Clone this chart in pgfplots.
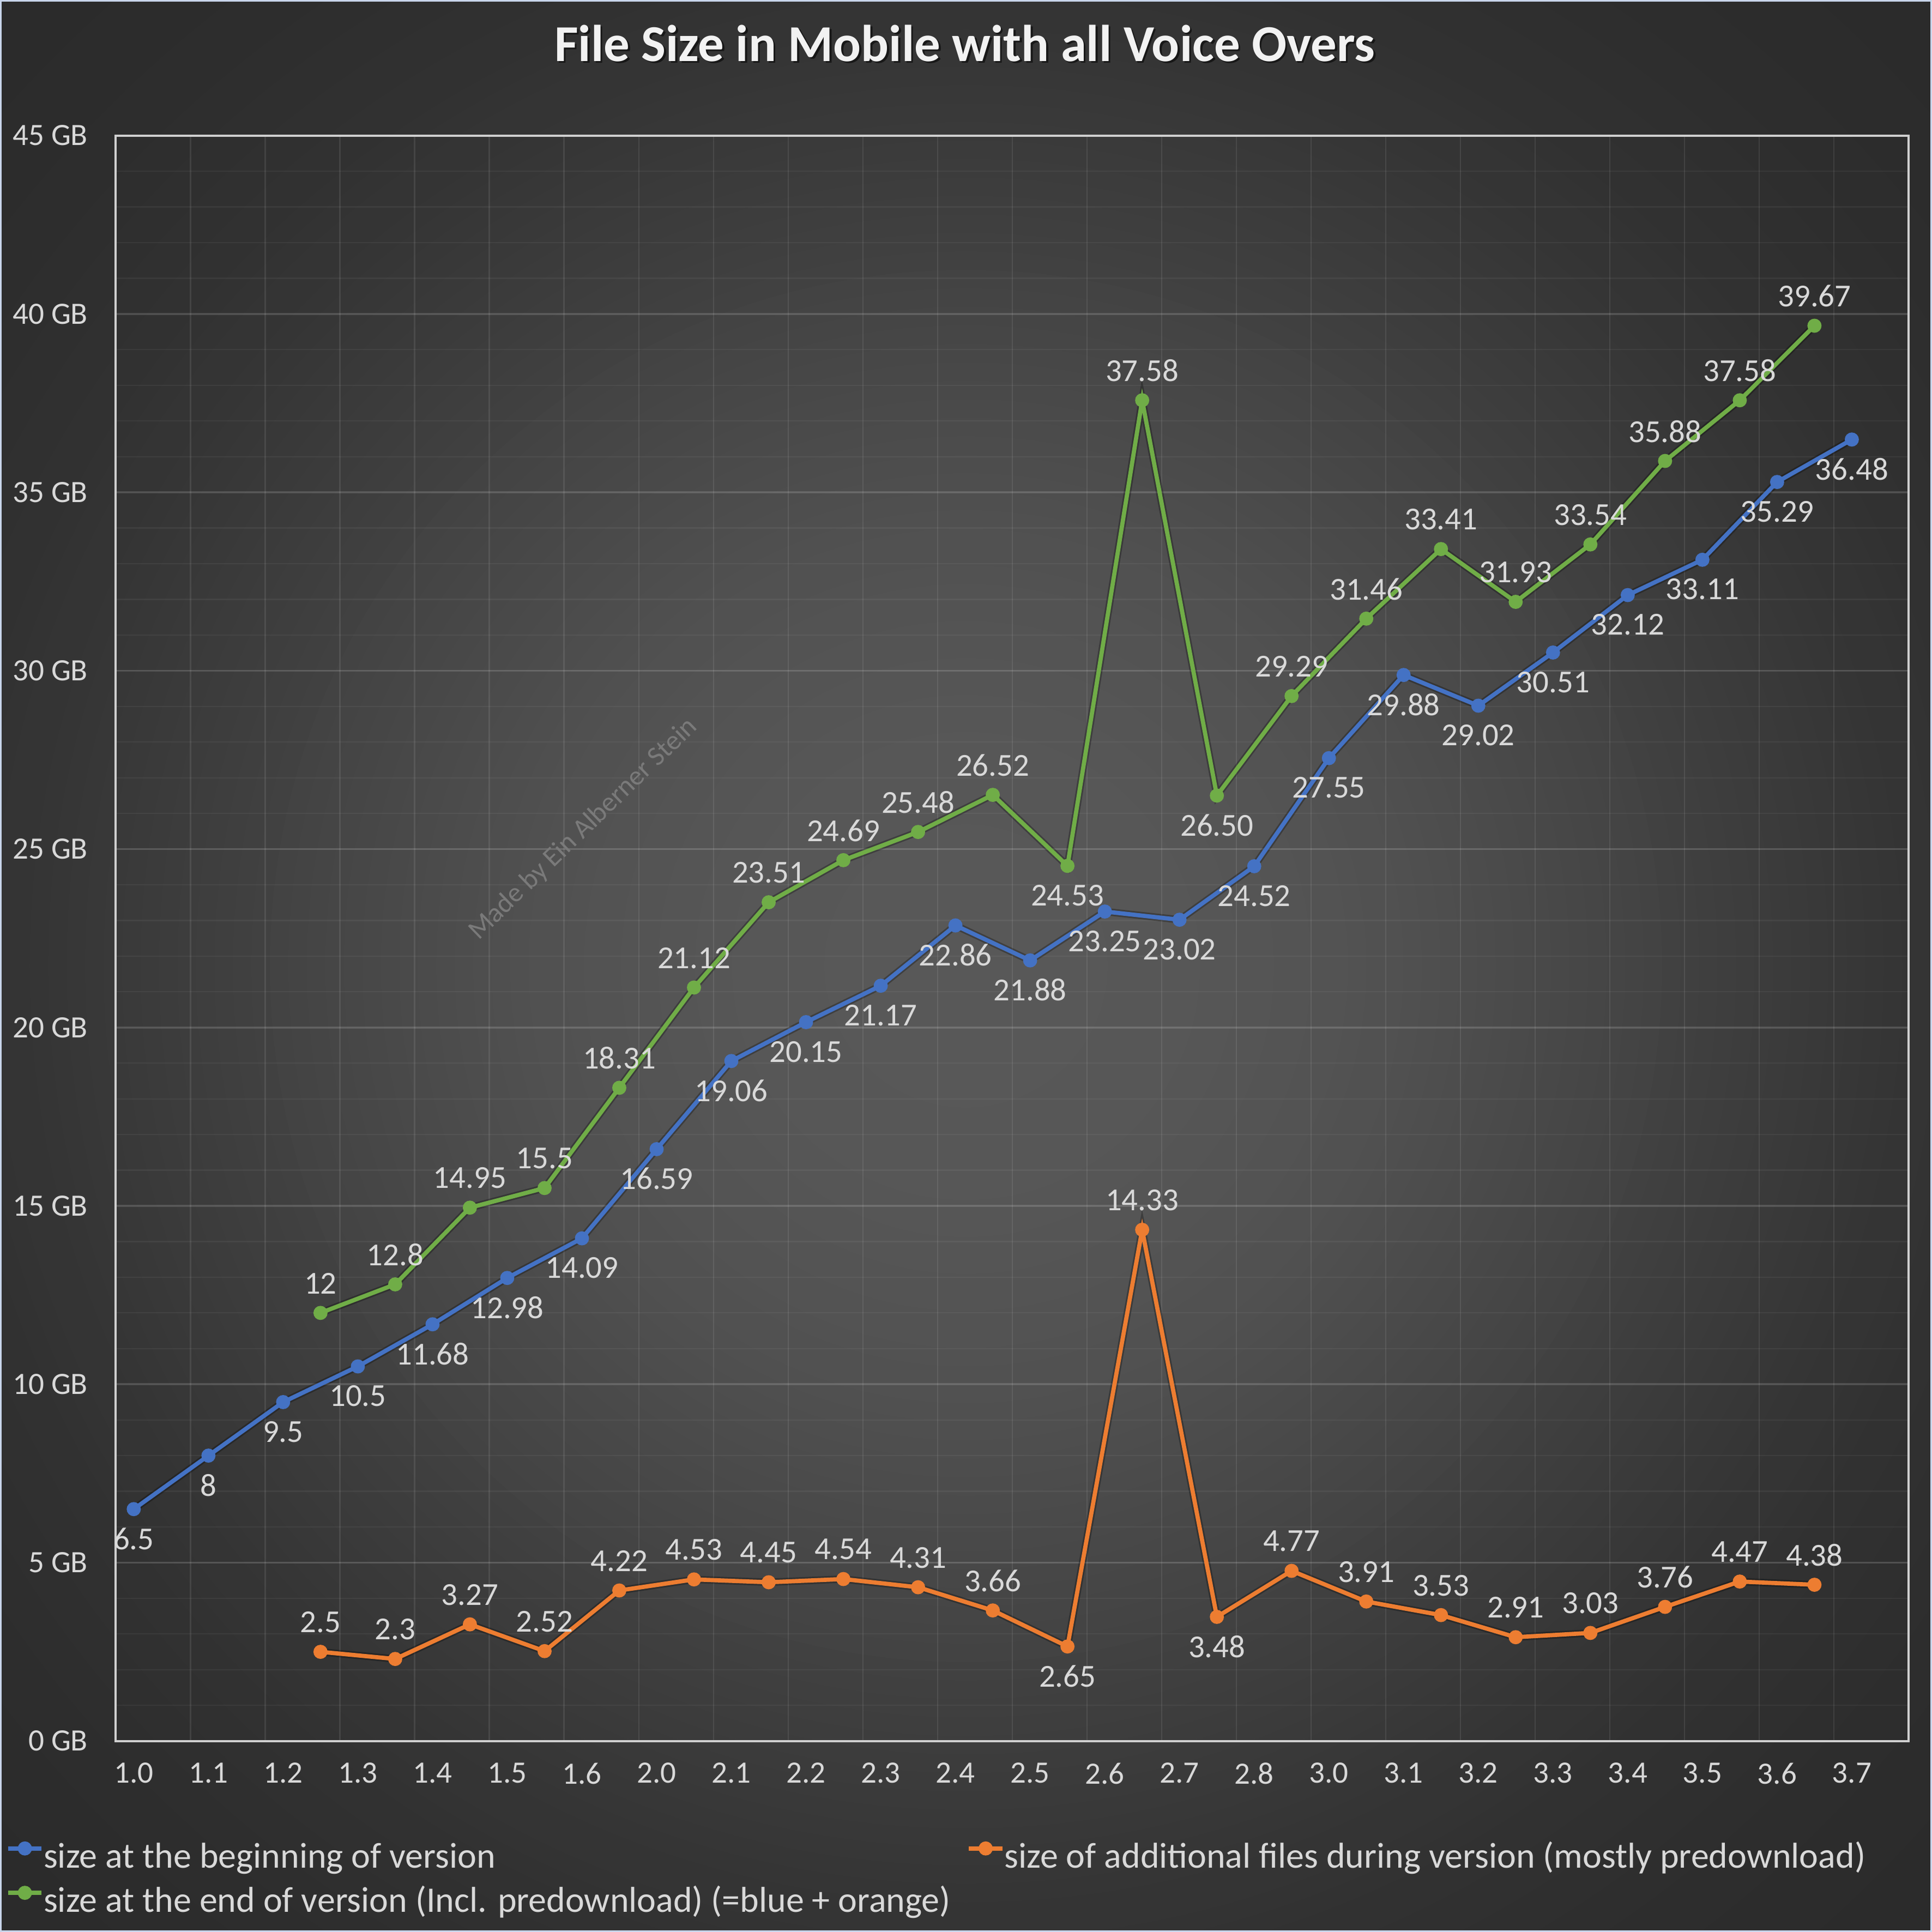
\documentclass[border=0pt]{standalone}
\usepackage{fontspec}
\setmainfont{Carlito}
\usepackage{pgfplots}
\pgfplotsset{compat=1.18}
\usepackage{pgfplotstable}

\definecolor{sblue}{HTML}{4472C4}
\definecolor{sorange}{HTML}{ED7D31}
\definecolor{sgreen}{HTML}{70AD47}
\definecolor{txt}{HTML}{D9D9D9}
\definecolor{ttl}{HTML}{F2F2F2}
\definecolor{wm}{HTML}{7A7A7A}
\definecolor{edge}{HTML}{C9D6EC}
\definecolor{frame}{HTML}{D0D0D0}
\definecolor{bgout}{HTML}{2A2A2A}

\newcommand\fs[1]{\fontsize{#1}{#1}\selectfont}

% size at the beginning of each version
\pgfplotstableread{
x y pos
0 6.5 -1
1 8 -1
2 9.5 -1
3 10.5 -1
4 11.68 -1
5 12.98 -1
6 14.09 -1
7 16.59 -1
8 19.06 -1
9 20.15 -1
10 21.17 -1
11 22.86 -1
12 21.88 -1
13 23.25 -1
14 23.02 -1
15 24.52 -1
16 27.55 -1
17 29.88 -1
18 29.02 -1
19 30.51 -1
20 32.12 -1
21 33.11 -1
22 35.29 -1
23 36.48 -1
}\startsize

% additional files downloaded during each version
\pgfplotstableread{
x y pos
2.5 2.5 1
3.5 2.3 1
4.5 3.27 1
5.5 2.52 1
6.5 4.22 1
7.5 4.53 1
8.5 4.45 1
9.5 4.54 1
10.5 4.31 1
11.5 3.66 1
12.5 2.65 -1
13.5 14.33 1
14.5 3.48 -1
15.5 4.77 1
16.5 3.91 1
17.5 3.53 1
18.5 2.91 1
19.5 3.03 1
20.5 3.76 1
21.5 4.47 1
22.5 4.38 1
}\extrasize

% size at the end of each version
\pgfplotstableread{
x y pos
2.5 12 1
3.5 12.8 1
4.5 14.95 1
5.5 15.5 1
6.5 18.31 1
7.5 21.12 1
8.5 23.51 1
9.5 24.69 1
10.5 25.48 1
11.5 26.52 1
12.5 24.53 -1
13.5 37.58 1
14.5 26.50 -1
15.5 29.29 1
16.5 31.46 1
17.5 33.41 1
18.5 31.93 1
19.5 33.54 1
20.5 35.88 1
21.5 37.58 1
22.5 39.67 1
}\endsize

\pgfplotsset{
  series/.style={color=#1, line width=0.85pt, mark=*, mark size=1pt,
    mark options={solid, fill=#1, draw=#1}},
  halo/.style={black, opacity=0.28, line width=1.5pt, no markers, forget plot},
  valuelabels/.style={nodes near coords, point meta=explicit symbolic,
    visualization depends on={\thisrow{pos}\as\lpos},
    every node near coord/.append style={anchor=center, inner sep=0pt,
      text=txt, font=\fs{6.5}, yshift=\lpos*6pt}},
}

\begin{document}
\begin{tikzpicture}
  % chart background: radial glow, lighter in the middle, built from rings
  \begin{scope}
    \clip (0pt,0pt) rectangle (392pt,392pt);
    \fill[bgout] (0pt,0pt) rectangle (392pt,392pt);
    \foreach \r in {1120,1105,...,10} {
      \pgfmathtruncatemacro\g{42.5+46*exp(-(\r/670)^2.73)}
      \definecolor{ringc}{RGB}{\g,\g,\g}
      \fill[ringc] (196pt,196pt) circle[radius=\r*0.25pt];
    }
  \end{scope}
  \draw[edge, line width=0.35pt] (0.175pt,0.175pt) rectangle (391.825pt,391.825pt);

  % title with soft shadow
  \node[text=black, opacity=0.55, font=\bfseries\fs{10.5}] at (196.15pt,382.85pt)
    {File Size in Mobile with all Voice Overs};
  \node[text=ttl, font=\bfseries\fs{10.5}] at (195.75pt,383.25pt)
    {File Size in Mobile with all Voice Overs};

  \begin{axis}[
    at={(23.5pt,38.75pt)}, anchor=south west,
    scale only axis, width=363.75pt, height=325.75pt,
    xmin=-0.24, xmax=23.76, ymin=0, ymax=45,
    clip=false,
    xtick={0,1,...,23},
    xticklabels={1.0,1.1,1.2,1.3,1.4,1.5,1.6,2.0,2.1,2.2,2.3,2.4,2.5,2.6,2.7,2.8,3.0,3.1,3.2,3.3,3.4,3.5,3.6,3.7},
    ytick={0,5,...,45},
    yticklabels={0 GB,5 GB,10 GB,15 GB,20 GB,25 GB,30 GB,35 GB,40 GB,45 GB},
    minor xtick={0.76,1.76,...,22.76},
    minor ytick={1,2,...,44},
    major tick length=0pt, minor tick length=0pt,
    xmajorgrids=false, xminorgrids=true,
    ymajorgrids=true, yminorgrids=true,
    major y grid style={white, opacity=0.12, line width=0.4pt},
    minor y grid style={white, opacity=0.05, line width=0.25pt},
    minor x grid style={white, opacity=0.09, line width=0.25pt},
    axis line style={frame, line width=0.45pt},
    xticklabel style={font=\fs{6.3}, text=txt, inner sep=0pt, anchor=north, yshift=-4.25pt},
    yticklabel style={font=\fs{6.3}, text=txt, inner sep=0pt, anchor=east, xshift=-5.5pt},
    legend columns=2,
    legend cell align=left,
    legend style={at={(-0.0618,-0.0617)}, anchor=north west, draw=none, fill=none,
      inner sep=0pt, row sep=2pt,
      nodes={inner sep=0pt, text=txt, font=\fs{7.3}, text height=5.4pt, text depth=1.6pt},
      /tikz/every even column/.append style={column sep=3.25pt}},
    legend image code/.code={%
      \draw[mark repeat=2, mark phase=2]
        plot coordinates {(0pt,2pt) (3.4pt,2pt) (6.8pt,2pt)};},
  ]
    \node[rotate=44, text=wm, font=\fs{5.6}] at (axis cs:6.02,25.56)
      {Made by Ein Alberner Stein};

    \addplot[halo] table[x=x, y=y] {\startsize};
    \addplot[halo] table[x=x, y=y] {\extrasize};
    \addplot[halo] table[x=x, y=y] {\endsize};

    \addplot[series=sblue, valuelabels] table[x=x, y=y, meta=y] {\startsize};
    \addlegendentry{size at the beginning of version}
    \addplot[series=sorange, valuelabels] table[x=x, y=y, meta=y] {\extrasize};
    \addlegendentry{size of additional files during version (mostly predownload)}
    \addplot[series=sgreen, valuelabels] table[x=x, y=y, meta=y] {\endsize};
    \addlegendentry{size at the end of version (Incl. predownload) (=blue + orange)}
  \end{axis}

  \pgfresetboundingbox
  \path (0pt,0pt) rectangle (392pt,392pt);
\end{tikzpicture}
\end{document}
